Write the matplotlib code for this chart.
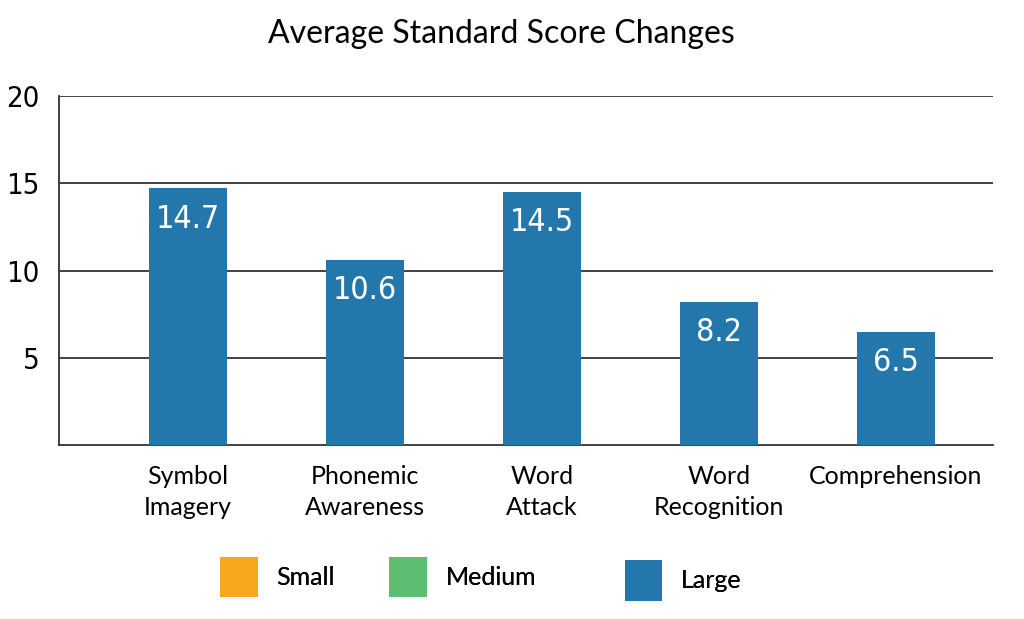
import matplotlib
matplotlib.use("Agg")
import matplotlib.pyplot as plt
from matplotlib.patches import Patch

categories = ["Symbol\nImagery", "Phonemic\nAwareness", "Word\nAttack", "Word\nRecognition", "Comprehension"]
values = [14.7, 10.6, 14.5, 8.2, 6.5]
value_labels = ["14.7", "10.6", "14.5", "8.2", "6.5"]
yticks = [5, 10, 15, 20]
legend_names = ["Small", "Medium", "Large"]
legend_colors = ["#F9A71E", "#5DBE73", "#2477AB"]

plain = ["Lato", "DejaVu Sans"]

fig = plt.figure(figsize=(10.24, 6.19), dpi=100)
ax = fig.add_axes([0.0576, 0.281, 0.912, 0.564])

x = range(len(values))
bars = ax.bar(x, values, width=0.44, color=legend_colors[2], zorder=3)

for b, lab in zip(bars, value_labels):
    ax.annotate(lab, (b.get_x() + b.get_width() / 2, b.get_height()),
                xytext=(0, -11), textcoords="offset points",
                ha="center", va="top", color="white", fontsize=23,
                family="DejaVu Sans", fontstretch="condensed", zorder=4)

ax.set_xlim(-0.73, 4.55)
ax.set_ylim(0, 20)
ax.set_yticks(yticks)
ax.set_yticklabels([str(t) for t in yticks], family="DejaVu Sans", fontstretch="condensed", fontsize=21)
ax.set_xticks(list(x))
ax.set_xticklabels(categories, family=plain, fontsize=18, linespacing=1.45)
ax.tick_params(axis="x", length=0, pad=14)
ax.tick_params(axis="y", length=0, pad=14)

ax.yaxis.grid(True, color="#333333", linewidth=1.3, zorder=0)
for s in ["top", "right"]:
    ax.spines[s].set_visible(False)
for s in ["left", "bottom"]:
    ax.spines[s].set_color("#333333")
    ax.spines[s].set_linewidth(1.3)

fig.suptitle("Average Standard Score Changes", x=0.49, y=0.97, fontsize=23, family=plain)

# three separate legend entries, spaced like the original
leg_x = [0.193, 0.358, 0.588]
leg_y = [0.068, 0.068, 0.062]
for name, col, lx, ly in zip(legend_names, legend_colors, leg_x, leg_y):
    leg = fig.legend(handles=[Patch(facecolor=col, edgecolor="none")], labels=[name],
                     loc="center left", bbox_to_anchor=(lx, ly), frameon=False,
                     handlelength=1.5, handleheight=2.1, handletextpad=0.75,
                     prop={"family": plain, "size": 18})
    fig.add_artist(leg)

fig.savefig("out.png", dpi=100)
